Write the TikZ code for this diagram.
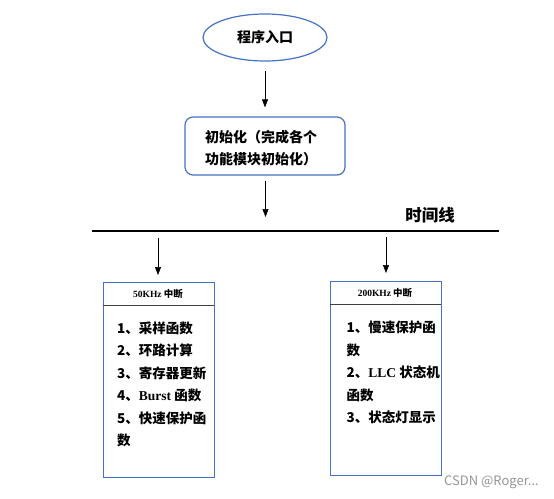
\documentclass[tikz,border=0pt]{standalone}
\usepackage{fontspec}
\newfontfamily\cjk{Noto Sans CJK SC}
\setmainfont{Noto Sans CJK SC}
\newfontfamily\latserif{Liberation Serif}
\usetikzlibrary{arrows.meta,shapes.geometric}
\definecolor{boxblue}{RGB}{68,114,196}
\definecolor{wmgray}{RGB}{150,150,150}
\tikzset{
  conn/.style={draw=black, line width=0.6pt, -{Triangle[length=8pt,width=6pt]}},
  startnode/.style={ellipse, draw=boxblue, line width=1.2pt, minimum width=124pt, minimum height=47pt, inner sep=0pt, font=\fontsize{14}{16}\selectfont\bfseries},
  initnode/.style={rectangle, rounded corners=8pt, draw=boxblue, line width=1.2pt, minimum width=160pt, minimum height=58pt, inner sep=0pt},
  intbox/.style={rectangle, draw=boxblue, line width=1.2pt, minimum width=111pt, inner sep=0pt, anchor=north west},
  hdrtext/.style={font=\fontsize{9.5}{11}\selectfont\bfseries, inner sep=0pt},
  itemtext/.style={font=\fontsize{13.5}{22.5}\selectfont\bfseries, align=left, anchor=north west, inner sep=0pt},
}
\begin{document}
\begin{tikzpicture}[x=1pt,y=-1pt]
\useasboundingbox (0,0) rectangle (554,498);
% start
\node[startnode] (start) at (265,37.5) {程序入口};
% init
\node[initnode] (init) at (265,146) {};
\node[itemtext, font=\fontsize{14}{22}\selectfont\bfseries] (inittext) at (205,130) {初始化（完成各个\\功能模块初始化）};
% time line
\coordinate (tlL) at (92,231);
\coordinate (tlR) at (499,231);
\draw[line width=2.4pt, black] (tlL) -- (tlR);
\node[font=\fontsize{16.5}{18}\selectfont\bfseries, anchor=south, inner sep=0pt] (tltext) at (430,223) {时间线};
\coordinate (tlA) at (265.5,231);
\coordinate (tlB) at (158,231);
\coordinate (tlC) at (386,231);
% left box
\node[intbox, minimum height=195pt] (lbox) at (102.5,282) {};
\coordinate (lh1) at (102.5,305.5);
\coordinate (lh2) at (213.5,305.5);
\draw[line width=0.8pt, black!75] (lh1) -- (lh2);
\node[hdrtext] (lhdr) at (158,294) {{\latserif 50KHz} 中断};
\node[itemtext] (litems) at (117,321.5) {1、采样函数\\2、环路计算\\3、寄存器更新\\4、{\latserif Burst} 函数\\5、快速保护函\\数};
% right box
\node[intbox, minimum height=194pt] (rbox) at (329.5,281) {};
\coordinate (rh1) at (329.5,304);
\coordinate (rh2) at (440.5,304);
\draw[line width=0.8pt, black!75] (rh1) -- (rh2);
\node[hdrtext] (rhdr) at (385,293) {{\latserif 200KHz} 中断};
\node[itemtext] (ritems) at (346.5,321) {1、慢速保护函\\数\\2、{\latserif LLC} 状态机\\函数\\3、状态灯显示};
% connectors
\draw[conn, shorten <=9pt, shorten >=9pt] (start.south) -- (init.north);
\draw[conn, shorten <=5pt, shorten >=14pt] (init.south -| tlA) -- (tlA);
\draw[conn, shorten <=7pt, shorten >=7pt] (tlB) -- (lbox.north -| tlB);
\draw[conn, shorten <=6pt, shorten >=8pt] (tlC) -- (rbox.north -| tlC);
% watermark
\node[font=\fontsize{13}{14}\selectfont, text=wmgray, anchor=east, inner sep=0pt] (wm) at (539,482) {CSDN @Roger...};
\end{tikzpicture}
\end{document}
